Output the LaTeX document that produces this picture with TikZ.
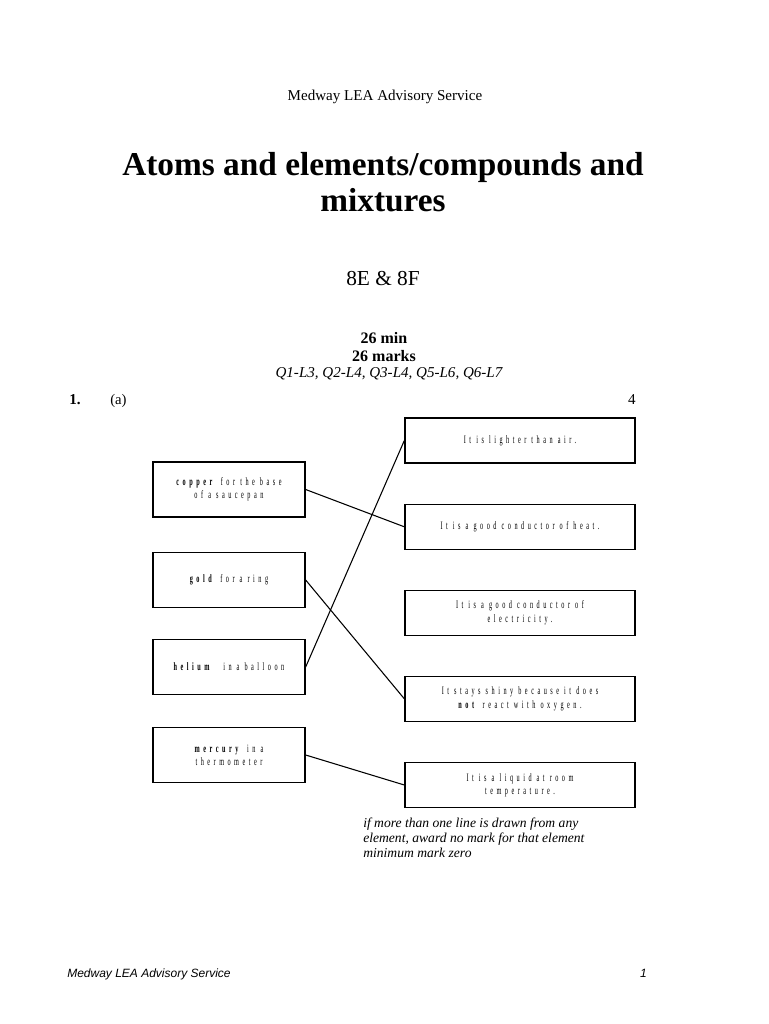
\documentclass[tikz,border=0pt]{standalone}
\usepackage{fontspec}
\setmainfont{Liberation Serif}
\newfontfamily\boxfont[FakeStretch=0.55,LetterSpace=31]{Liberation Serif}
\newfontfamily\footfont{Liberation Sans}
\begin{document}
\begin{tikzpicture}[x=0.75pt,y=-0.75pt,
  boxtext/.style={align=center,inner sep=0pt,font=\boxfont\fontsize{8.5}{10}\selectfont},
  leftbox/.style={draw,line width=1pt,minimum width=114pt,minimum height=41.25pt,boxtext},
  rightbox/.style={draw,line width=1pt,minimum width=172.5pt,minimum height=33.75pt,boxtext},
  link/.style={line width=0.8pt},
  txt/.style={inner sep=0pt,anchor=base}]
\fill[white] (0,0) rectangle (768,1024);
\useasboundingbox (0,0) rectangle (768,1024);

\node[txt,font=\fontsize{11.3}{13}\selectfont] (hdr) at (385,100) {Medway LEA Advisory Service};
\node[txt,font=\bfseries\fontsize{25}{30}\selectfont] (t1) at (383,175) {Atoms and elements/compounds and};
\node[txt,font=\bfseries\fontsize{25}{30}\selectfont] (t2) at (383,211) {mixtures};
\node[txt,font=\fontsize{16}{19}\selectfont] (code) at (383,285) {8E \& 8F};
\node[txt,font=\bfseries\fontsize{12}{14}\selectfont] (min) at (384,343) {26 min};
\node[txt,font=\bfseries\fontsize{12}{14}\selectfont] (marks) at (384,361.5) {26 marks};
\node[txt,font=\itshape\fontsize{11.3}{13}\selectfont] (levels) at (389,377) {Q1-L3, Q2-L4, Q3-L4, Q5-L6, Q6-L7};
\node[txt,anchor=base west,font=\bfseries\fontsize{11.3}{13}\selectfont] (qnum) at (69,404) {1.};
\node[txt,anchor=base west,font=\fontsize{11}{13}\selectfont] (qpart) at (110,404) {(a)};
\node[txt,anchor=base east,font=\fontsize{11.3}{13}\selectfont] (qmarks) at (636,404) {4};

\node[leftbox] (copper) at (229,489.5) {\textbf{copper} for the base\\of a saucepan};
\node[leftbox] (gold) at (229,580) {\textbf{gold} for a ring};
\node[leftbox] (helium) at (229,667) {\textbf{helium}\ \ in a balloon};
\node[leftbox] (mercury) at (229,755) {\textbf{mercury} in a\\thermometer};

\node[rightbox] (lighter) at (520,440.5) {It is lighter than air.};
\node[rightbox] (heat) at (520,526.8) {It is a good conductor of heat.};
\node[rightbox] (elec) at (520,612.8) {It is a good conductor of\\electricity.};
\node[rightbox] (shiny) at (520,698.8) {It stays shiny because it does\\\textbf{not} react with oxygen.};
\node[rightbox] (liquid) at (520,785) {It is a liquid at room\\temperature.};

\draw[link] (copper.east) -- (heat.west);
\draw[link] (gold.east) -- (shiny.west);
\draw[link] (helium.east) -- (lighter.west);
\draw[link] (mercury.east) -- (liquid.west);

\node[anchor=north west,inner sep=0pt,align=left,font=\itshape\fontsize{10.2}{11.25}\selectfont] (note) at (363,818) {if more than one line is drawn from any\\element, award no mark for that element\\minimum mark zero};

\node[txt,anchor=base west,font=\footfont\itshape\fontsize{9}{11}\selectfont] (foot) at (67,977) {Medway LEA Advisory Service};
\node[txt,anchor=base east,font=\footfont\itshape\fontsize{9}{11}\selectfont] (page) at (647,977) {1};
\end{tikzpicture}
\end{document}
